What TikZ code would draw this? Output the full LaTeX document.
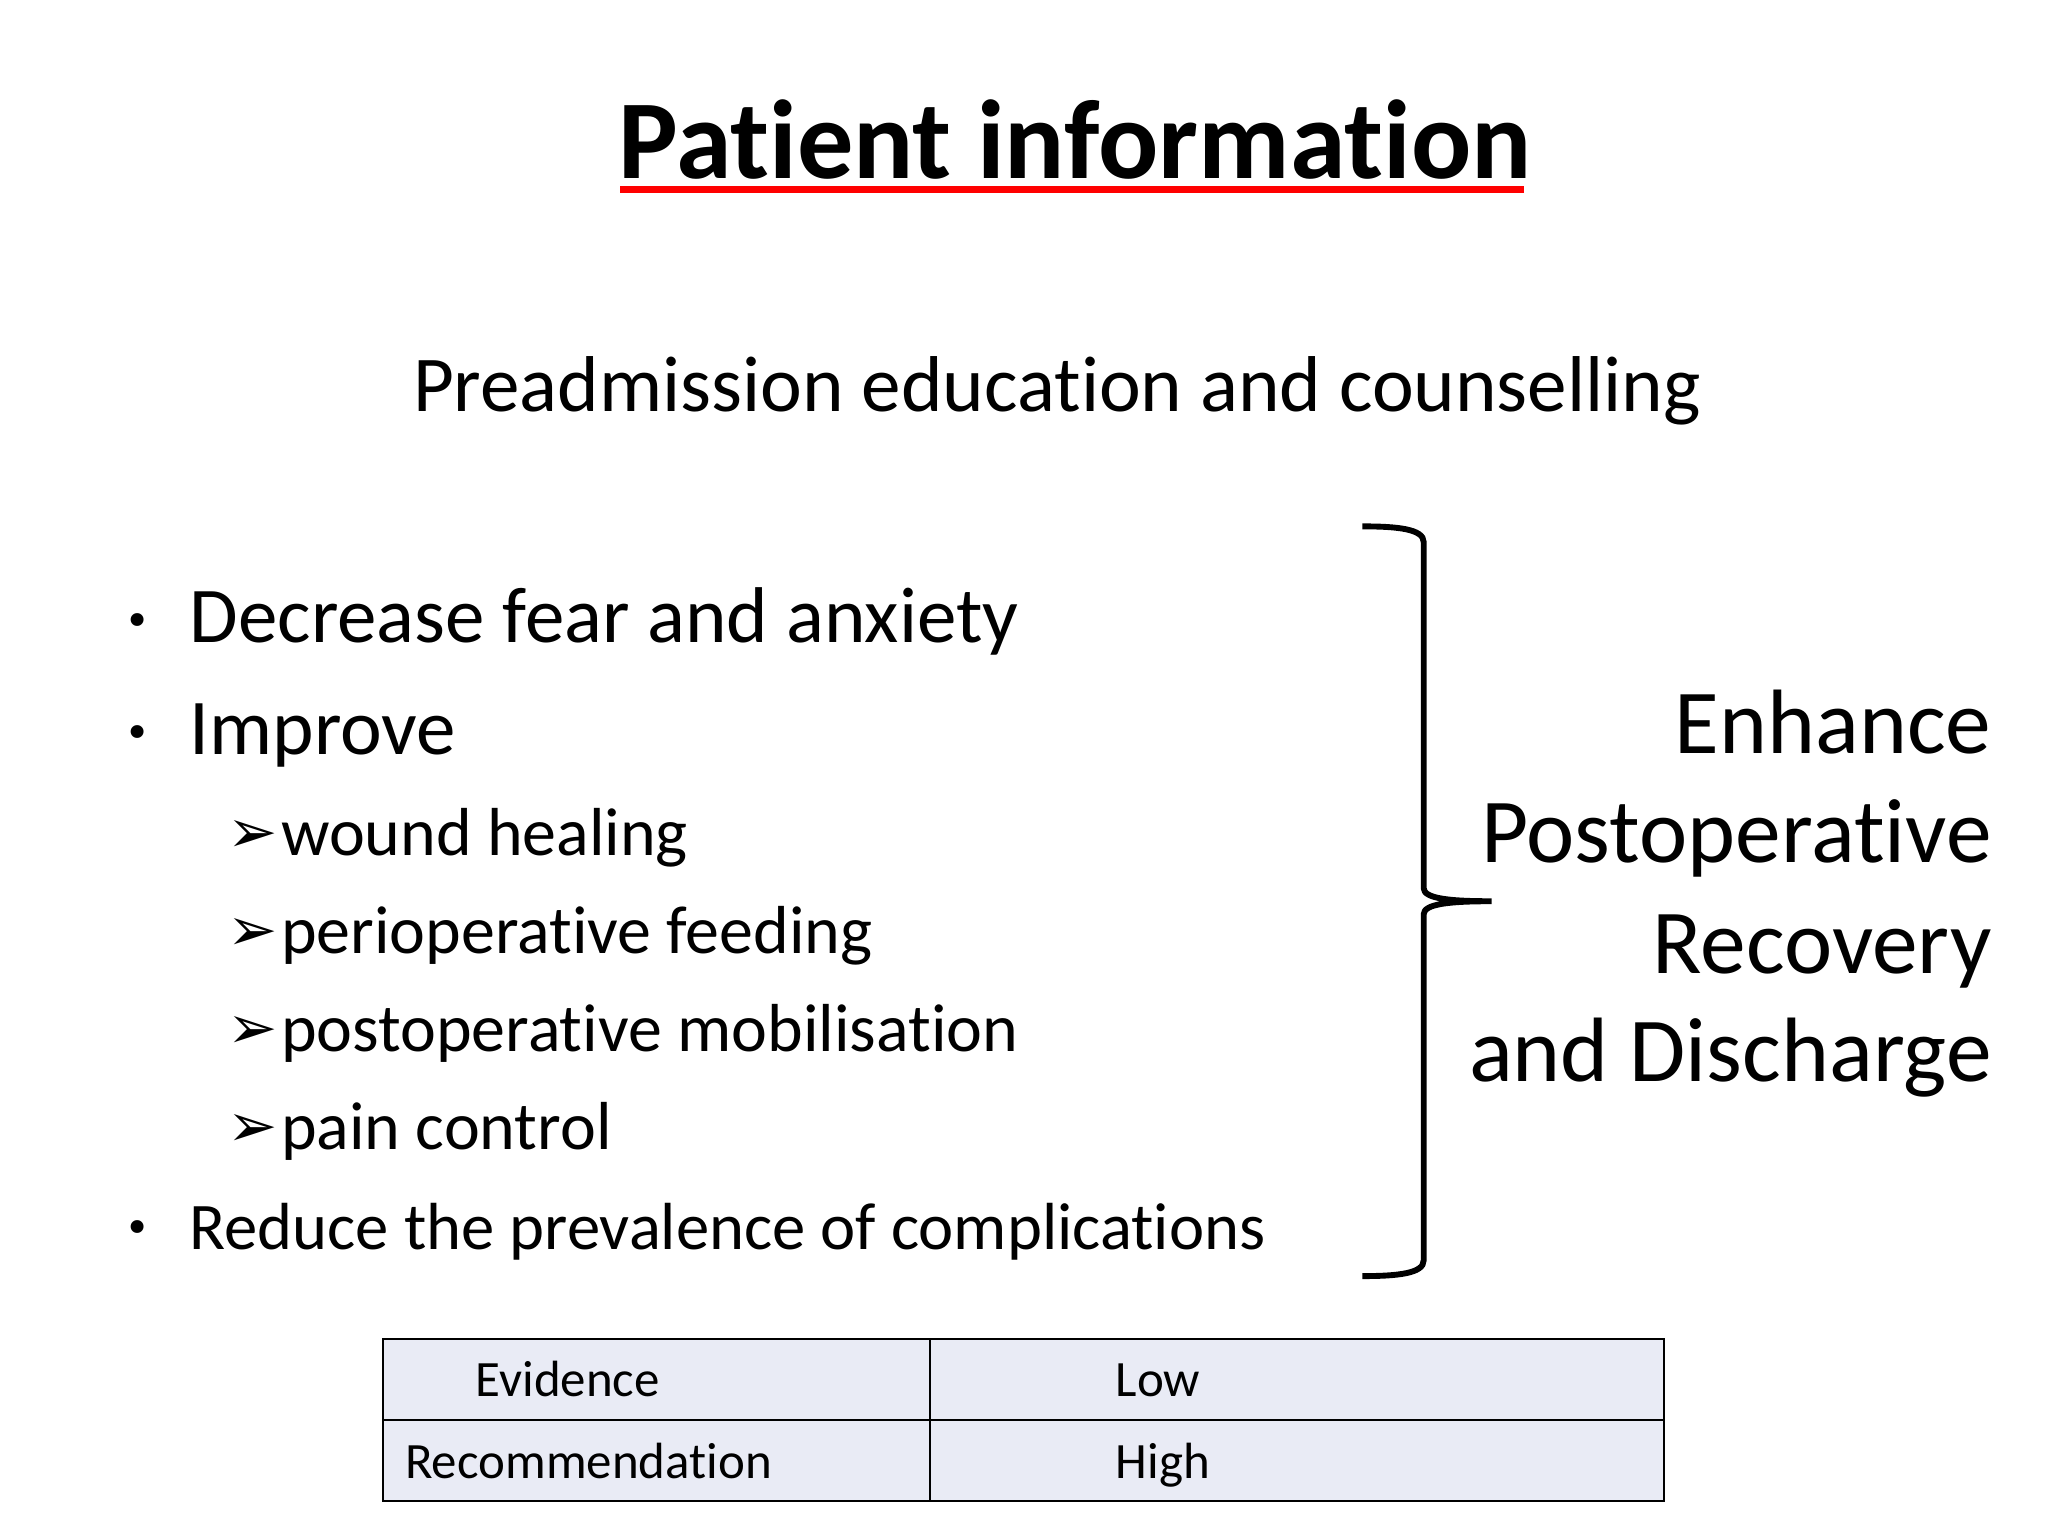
\documentclass[tikz,border=0pt]{standalone}
\usepackage{fontspec}
\setmainfont[Ligatures=NoCommon]{Carlito}
\newfontfamily\dejavu{DejaVu Sans}
\begin{document}
\begin{tikzpicture}[x=1pt,y=-1pt,
  txt/.style={anchor=base west,inner sep=0pt},
  big/.style={txt,font=\fontsize{60.5}{70}\selectfont},
  sub/.style={txt,font=\fontsize{52}{60}\selectfont},
  rt/.style={anchor=base east,inner sep=0pt,font=\fontsize{70}{80}\selectfont},
  tb/.style={txt,font=\fontsize{39}{44}\selectfont}]
\useasboundingbox (0,0) rectangle (1568,1176);
\node[anchor=base,inner sep=0pt,font=\fontsize{86}{96}\selectfont\bfseries] (title) at (823,137) {Patient information};
\draw[red,line width=5pt] (475,145) -- (1167,145);
\node[txt,font=\fontsize{60.6}{70}\selectfont] (subt) at (316,315) {Preadmission education and counselling};
\foreach \n/\y/\t/\s in {b1/492/Decrease fear and anxiety/60.5, b2/578/Improve/60.5, b3/957/Reduce the prevalence of complications/51}{
  \node[txt,font=\fontsize{\s}{70}\selectfont] (\n) at (145,\y) {\t};
  \node[anchor=base,inner sep=0pt,font=\dejavu\fontsize{34}{40}\selectfont] at (105,\y-5) {•};
}
\foreach \n/\y/\t in {s1/655/wound healing, s2/730/perioperative feeding, s3/805/postoperative mobilisation, s4/880/pain control}{
  \node[sub] (\n) at (215,\y) {\t};
  \node[anchor=base west,inner sep=0pt,font=\dejavu\bfseries\fontsize{46}{50}\selectfont] at (174,\y-2) {➢};
}
\draw[line width=4.5pt,line join=round] (1043,403) .. controls (1070,403) and (1090,405) .. (1090,415)
  -- (1090,680) .. controls (1090,688) and (1110,690) .. (1142,690)
  (1142,690) .. controls (1110,690) and (1090,692) .. (1090,700)
  -- (1090,965) .. controls (1090,975) and (1070,977) .. (1043,977);
\foreach \n/\y/\t in {r1/577/Enhance, r2/660/Postoperative, r3/745/Recovery, r4/828/and Discharge}{
  \node[rt] (\n) at (1525,\y) {\t};
}
\draw[fill={rgb,255:red,233;green,235;blue,245},line width=1.5pt] (293,1025) rectangle (1274,1149);
\draw[line width=1.5pt] (293,1087) -- (1274,1087) (712,1025) -- (712,1149);
\node[tb] (e) at (364,1069) {Evidence};
\node[tb] (l) at (854,1069) {Low};
\node[tb] (rc) at (310,1132) {Recommendation};
\node[tb] (h) at (854,1132) {High};
\end{tikzpicture}
\end{document}
